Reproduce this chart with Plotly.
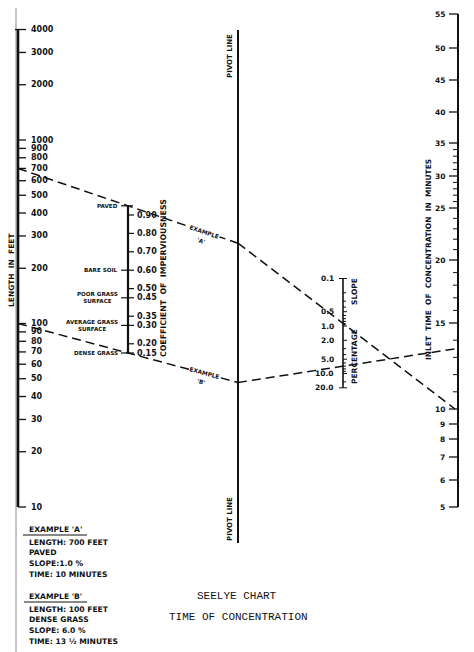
import numpy as np
import plotly.graph_objects as go

# ---------------- data ----------------
length_ticks = [4000, 3000, 2000, 1000, 900, 800, 700, 600, 500, 400, 300, 200,
                100, 90, 80, 70, 60, 50, 40, 30, 20, 10]
coef_ticks = [0.90, 0.80, 0.70, 0.60, 0.50, 0.45, 0.35, 0.30, 0.20, 0.15]
surface_names = ["PAVED", "BARE SOIL", "POOR GRASS<br>SURFACE",
                 "AVERAGE GRASS<br>SURFACE", "DENSE GRASS"]
surface_coefs = [0.95, 0.60, 0.45, 0.30, 0.15]
slope_labels = [0.1, 0.5, 1.0, 2.0, 5.0, 10.0, 20.0]
slope_label_text = ["0.1", "0.5", "1.0", "2.0", "5.0", "10.0", "20.0"]
slope_minor = [0.2, 0.3, 0.4, 0.6, 0.7, 0.8, 0.9, 3, 4, 6, 7, 8, 9, 15]
time_ticks = [55, 50, 45, 40, 35, 30, 25, 20, 15, 10, 9, 8, 7, 6, 5]
time_minor = [11, 12, 13, 14, 16, 17, 18, 19, 21, 22, 23, 24,
              26, 27, 28, 29, 31, 32, 33, 34]
example_names = ["A", "B"]
example_length = [700, 100]
example_coef = [0.95, 0.15]
example_slope = [1.0, 6.0]
example_time = [10, 13.5]
notes_a = ["LENGTH: 700 FEET", "PAVED", "SLOPE:1.0 %", "TIME: 10 MINUTES"]
notes_b = ["LENGTH: 100 FEET", "DENSE GRASS", "SLOPE: 6.0 %", "TIME: 13 ½ MINUTES"]

# ---------------- nomograph scales (sheet coordinates) ----------------
XL, XC, XP, XS, XT = 18, 128, 238, 343, 458


def y_len(v):
    return 507 - 183.5 * np.log10(np.asarray(v, float) / 10.0)


def y_coef(v):
    return 215 + 184 * (0.90 - np.asarray(v, float))


def y_slope(v):
    return 326 + 47.5 * np.log10(np.asarray(v, float))


T_CAL = [5, 6, 7, 8, 9, 10, 15, 20, 25, 30, 35, 40, 45, 50, 55]
Y_CAL = [507, 480, 457, 439, 424, 409, 323, 260, 208, 176, 143, 112, 80, 48, 14]


def y_time(v):
    return np.interp(v, T_CAL, Y_CAL)


fig = go.Figure()
BLACK = "#111"
FONT = "DejaVu Sans"


def seg_trace(segs, width, color=BLACK, dash=None):
    xs, ys = [], []
    for (x0, y0, x1, y1) in segs:
        xs += [x0, x1, None]
        ys += [y0, y1, None]
    fig.add_trace(go.Scatter(x=xs, y=ys, mode="lines", hoverinfo="skip",
                             line=dict(color=color, width=width, dash=dash),
                             showlegend=False))


ann = []


def text(x, y, s, size=8, xa="center", ya="middle", angle=0, fam=FONT, bold=True, bg=None):
    d = dict(x=x, y=y, xref="x", yref="y", text=("<b>%s</b>" % s) if bold else s,
             showarrow=False, xanchor=xa, yanchor=ya, textangle=angle,
             font=dict(family=fam, size=size, color=BLACK))
    if bg:
        d["bgcolor"] = bg
        d["borderpad"] = 0
    ann.append(d)


# page border of the scan
seg_trace([(16, 0, 16, 652)], 1, color="#888")

# ---- length scale ----
yl = y_len(length_ticks)
seg_trace([(XL, float(yl.min()), XL, float(yl.max()))], 2.6)
seg_trace([(XL, float(y), XL + 8, float(y)) for y in yl] + [(XL - 3, float(yl.min()), XL, float(yl.min()))], 1.3)
for v, y in zip(length_ticks, yl):
    text(XL + 11, float(y), str(v), size=8, xa="left")
text(11, 270, "LENGTH  IN  FEET", size=7.5, angle=-90)

# ---- coefficient scale ----
yc = y_coef(coef_ticks)
ys_surf = y_coef(surface_coefs)
seg_trace([(XC, float(ys_surf.min()), XC, float(yc.max()))], 2.2)
seg_trace([(XC, float(y), XC + 6, float(y)) for y in yc], 1.2)
seg_trace([(XC - 7, float(y), XC, float(y)) for y in ys_surf] +
          [(XC, float(ys_surf.min()), XC + 5, float(ys_surf.min()))], 1.2)
for v, y in zip(coef_ticks, yc):
    text(XC + 7, float(y), "%.2f" % v, size=8, xa="left")
for s, y in zip(surface_names, ys_surf):
    text(XC - 8, float(y), s, size=5.6, xa="right")
text(163, 278, "COEFFICIENT  OF  IMPERVIOUSNESS", size=7.8, angle=-90)

# ---- pivot line ----
seg_trace([(XP, 30, XP, 543)], 2.0)
text(230, 56, "PIVOT LINE", size=7, angle=-90)
text(230, 519, "PIVOT LINE", size=7, angle=-90)

# ---- slope scale ----
ysl = y_slope(slope_labels)
ysm = y_slope(slope_minor)
seg_trace([(XS, float(ysl.min()), XS, float(ysl.max()))], 1.6)
seg_trace([(XS, float(y), XS + 4, float(y)) for y in ysl] +
          [(XS, float(y), XS + 3, float(y)) for y in ysm] +
          [(XS - 4, float(ysl.min()), XS, float(ysl.min())),
           (XS - 4, float(ysl.max()), XS, float(ysl.max()))], 1.0)
for t, y in zip(slope_label_text, ysl):
    text(XS - 7, float(y), t, size=7.5, xa="right")
text(354, 292, "SLOPE", size=7.5, angle=-90)
text(354, 357, "PERCENTAGE", size=7.5, angle=-90)

# ---- time scale ----
yt = y_time(time_ticks)
ytm = y_time(time_minor)
seg_trace([(XT, float(yt.min()), XT, float(yt.max()))], 2.0)
seg_trace([(XT - 9, float(y), XT, float(y)) for y in yt], 1.3)
seg_trace([(XT - 5, float(y), XT, float(y)) for y in ytm], 1.0)
for v, y in zip(time_ticks, yt):
    text(XT - 11, float(y), str(v), size=7.5, xa="right")
text(428, 260, "INLET  TIME  OF  CONCENTRATION  IN  MINUTES", size=7.5, angle=-90)

# ---- examples (dashed construction lines) ----
for name, L, C, S, T in zip(example_names, example_length, example_coef, example_slope, example_time):
    y0 = float(y_len(L))
    y1 = float(y_coef(C))
    yp = y0 + (y1 - y0) * (XP - XL) / (XC - XL)
    y3 = float(y_time(T))
    seg_trace([(XL, y0, XP, yp), (XP, yp, XT - 3, y3)], 1.5, dash="9px,5px")
    ang = float(np.degrees(np.arctan2(yp - y1, XP - XC)))
    mx = 204
    my = y1 + (yp - y1) * (mx - XC) / (XP - XC)
    text(mx, my, "EXAMPLE", size=5.8, angle=ang, bg="white")
    text(mx - 3, my + 9, "'%s'" % name, size=5.8, angle=ang)

# ---- notes ----
text(27, 529, "EXAMPLE 'A'", size=7.6, xa="left")
seg_trace([(23, 535, 87, 535)], 1.0)
for i, s in enumerate(notes_a):
    text(27, 542 + i * 10.8, s, size=7.6, xa="left")
text(27, 596, "EXAMPLE 'B'", size=7.6, xa="left")
seg_trace([(24, 602, 87, 602)], 1.0)
for i, s in enumerate(notes_b):
    text(27, 609 + i * 10.8, s, size=7.6, xa="left")

text(237, 596, "SEELYE CHART", size=11, fam="Liberation Mono", bold=False)
text(238, 617, "TIME OF CONCENTRATION", size=11, fam="Liberation Mono", bold=False)

# the page body has an 8px margin: the figure covers sheet pixels 8..474 x 8..652
fig.update_layout(
    width=466, height=644,
    margin=dict(l=0, r=0, t=0, b=0),
    paper_bgcolor="white", plot_bgcolor="white",
    xaxis=dict(range=[8, 474], visible=False, fixedrange=True),
    yaxis=dict(range=[652, 8], visible=False, fixedrange=True),
    annotations=ann,
    showlegend=False,
)
fig.write_html("out.html")
